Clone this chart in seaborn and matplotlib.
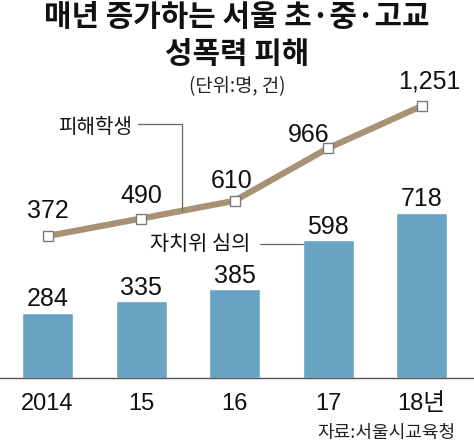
import numpy as np
import seaborn as sns
import matplotlib.pyplot as plt

# dati (단위: 명, 건)
years = ['2014', '15', '16', '17', '18년']
cases = [284, 335, 385, 598, 718]          # 자치위 심의
students = [372, 490, 610, 966, 1251]      # 피해학생

bar_color = '#68a3c3'
line_color = '#a89276'

sns.set_theme(style='white')
num_font = ['Liberation Sans', 'Noto Sans CJK KR', 'DejaVu Sans']
kr_font = ['Noto Sans CJK KR', 'DejaVu Sans']
plt.rcParams['font.family'] = num_font

fig = plt.figure(figsize=(4.74, 4.43), dpi=100)
ax = fig.add_axes([0, 65 / 443, 1, 318 / 443])

sns.barplot(x=years, y=cases, color=bar_color, width=0.545, saturation=1, ax=ax)
ax.set_xlim(-0.508, 4.56)
ax.set_ylim(0, 1382)
ax.bar_label(ax.containers[0], fontsize=18, padding=1, color='#111')

for s in ['top', 'left', 'right']:
    ax.spines[s].set_visible(False)
ax.spines['bottom'].set_color('#555')
ax.spines['bottom'].set_linewidth(1)
ax.set_yticks([])
ax.set_xlabel('')
ax.set_ylabel('')
ax.tick_params(axis='x', length=0, pad=11, labelsize=17, colors='#111')

# linea: secondo asse
ax2 = ax.twinx()
xpos = np.arange(len(years))
sns.lineplot(x=xpos, y=students, ax=ax2, color=line_color, lw=4.5,
             marker='s', markersize=7, markerfacecolor='white',
             markeredgecolor='#7a7a7a', markeredgewidth=1)
ax2.set_ylim(-588, 1562)
ax2.set_xlim(-0.508, 4.56)
ax2.axis('off')

offsets = [(0, 25), (0, 23), (-3, 20), (-19, 13), (8, 24)]
for x, v, off in zip(xpos, students, offsets):
    ax2.annotate(f'{v:,}', (x, v), xytext=off, textcoords='offset pixels',
                 ha='center', va='center', fontsize=18, color='#111')

# etichette delle serie con linee guida
ax2.plot([0.968, 1.4385, 1.4385], [1129, 1129, 542.6], color='#666', lw=0.9)
ax2.text(0.904, 1105, '피해학생', ha='right', va='center', fontsize=14.5,
         family=kr_font, color='#111')
ax.plot([2.273, 2.7275], [582.6, 582.6], color='#666', lw=0.9)
ax.text(2.166, 582.6, '자치위 심의', ha='right', va='center', fontsize=15,
        family=kr_font, color='#111')

fig.text(0.5, 1 - 17 / 443, '매년 증가하는 서울 초·중·고교', ha='center', va='center',
         fontsize=21.5, fontweight='bold', family=kr_font, color='#111')
fig.text(0.5, 1 - 54 / 443, '성폭력 피해', ha='center', va='center',
         fontsize=21.5, fontweight='bold', family=kr_font, color='#111')
fig.text(0.5, 1 - 87 / 443, '(단위:명, 건)', ha='center', va='center',
         fontsize=13.5, family=kr_font, color='#222')
fig.text(455 / 474, 1 - 433 / 443, '자료:서울시교육청', ha='right', va='center',
         fontsize=13, family=kr_font, color='#222')

fig.savefig('out.png', dpi=100)
